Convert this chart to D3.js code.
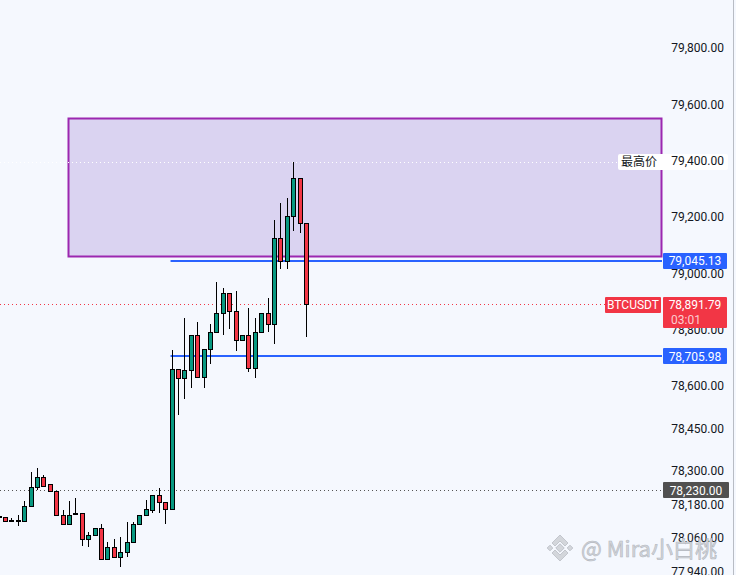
<!DOCTYPE html>
<html>
<head>
<meta charset="utf-8">
<script src="https://cdn.jsdelivr.net/npm/d3@7"></script>
<style>
  body { margin: 0; background: #f5f8fe; }
  svg { display: block; }
</style>
</head>
<body>
<div id="chart"></div>
<script>
// candle data, oldest first (BTCUSDT)
const opens  = [78136, 78134, 78123, 78120, 78120, 78173, 78240, 78276, 78251, 78226,
                78141, 78112, 78146, 78148, 78056, 78070, 78095, 77985, 78027, 77992,
                78010, 78045, 78109, 78141, 78159, 78215, 78187, 78162, 78659, 78627,
                78656, 78783, 78631, 78730, 78791, 78858, 78929, 78865, 78762, 78783,
                78663, 78791, 78858, 78822, 79124, 79043, 79202, 79337, 79178];
const highs  = [78139, 78134, 78130, 78141, 78191, 78294, 78308, 78286, 78251, 78226,
                78159, 78191, 78201, 78148, 78081, 78095, 78112, 78045, 78056, 78066,
                78116, 78116, 78141, 78194, 78215, 78237, 78187, 78727, 78659, 78840,
                78783, 78826, 78730, 78822, 78968, 78947, 78929, 78936, 78783, 78876,
                78840, 78858, 78911, 79188, 79249, 79266, 79397, 79337, 79178];
const lows   = [78135, 78120, 78116, 78102, 78120, 78173, 78230, 78247, 78226, 78141,
                78112, 78112, 78146, 78034, 78027, 78070, 77981, 77985, 77992, 77956,
                77992, 78045, 78109, 78141, 78148, 78148, 78112, 78162, 78496, 78553,
                78592, 78627, 78592, 78680, 78791, 78780, 78801, 78723, 78762, 78649,
                78627, 78791, 78791, 78751, 79014, 79014, 79149, 79142, 78773];
const closes = [78138, 78120, 78124, 78123, 78173, 78240, 78276, 78247, 78226, 78141,
                78112, 78144, 78148, 78056, 78070, 78095, 77985, 78027, 77992, 78010,
                78045, 78109, 78141, 78162, 78215, 78187, 78162, 78659, 78627, 78656,
                78783, 78631, 78730, 78791, 78858, 78929, 78865, 78762, 78783, 78663,
                78791, 78858, 78822, 79124, 79043, 79202, 79337, 79178, 78891.79];

const tickValues = [79800, 79600, 79400, 79200, 79000, 78800, 78600, 78450, 78300, 78180, 78060, 77940];

// drawings
const zoneTop = 79550, zoneBottom = 79060, zoneStart = 11;
const levelPrices = [79045.13, 78705.98];
const levelStart = 26.85;
const refPrice = 78230;
const countdown = "03:01";
const symbol = "BTCUSDT";
const highLabel = "最高价";

const width = 736, height = 575;
const plotRight = 662;

const svg = d3.select("#chart")
    .append("svg")
    .attr("width", width)
    .attr("height", height)
    .style("font-family", "Roboto, 'Noto Sans CJK SC', sans-serif");

svg.append("rect")
    .attr("width", width)
    .attr("height", height)
    .attr("fill", "#f5f8fe");

let x = d3.scaleLinear()
    .domain([0, opens.length - 1])
    .range([-1.4, 306]);

let y = d3.scaleLinear()
    .domain([77940, 79800])
    .range([572, 48]);

const fmt = d3.format(",.2f");

// purple zone
svg.append("rect")
    .attr("x", Math.round(x(zoneStart)) - 0.5)
    .attr("y", Math.round(y(zoneTop)) + 0.5)
    .attr("width", plotRight - Math.round(x(zoneStart)))
    .attr("height", Math.round(y(zoneBottom)) - Math.round(y(zoneTop)))
    .attr("fill", "#dad3f1")
    .attr("stroke", "#9c27b0")
    .attr("stroke-width", 2);

// high line (dotted white)
const hi = d3.max(highs);
svg.append("line")
    .attr("x1", 0).attr("x2", 618)
    .attr("y1", Math.round(y(hi)) + 0.5).attr("y2", Math.round(y(hi)) + 0.5)
    .attr("stroke", "#ffffff")
    .attr("stroke-dasharray", "1,3");

// dotted price lines
svg.append("line")
    .attr("x1", 0).attr("x2", plotRight)
    .attr("y1", Math.round(y(closes[closes.length - 1])) + 0.5)
    .attr("y2", Math.round(y(closes[closes.length - 1])) + 0.5)
    .attr("stroke", "#f23645")
    .attr("stroke-dasharray", "1,3");

svg.append("line")
    .attr("x1", 0).attr("x2", plotRight)
    .attr("y1", Math.round(y(refPrice)) + 0.5)
    .attr("y2", Math.round(y(refPrice)) + 0.5)
    .attr("stroke", "#555555")
    .attr("stroke-dasharray", "1,3");

// blue horizontal levels
svg.selectAll("levels")
    .data(levelPrices)
    .enter()
    .append("line")
    .attr("x1", x(levelStart)).attr("x2", plotRight)
    .attr("y1", d => Math.round(y(d)))
    .attr("y2", d => Math.round(y(d)))
    .attr("stroke", "#2962ff")
    .attr("stroke-width", 2);

// candles
const data = opens.map((o, i) => ({ i: i, o: o, h: highs[i], l: lows[i], c: closes[i] }));

svg.selectAll("wicks")
    .data(data)
    .enter()
    .append("line")
    .attr("x1", d => Math.round(x(d.i)) + 0.5)
    .attr("x2", d => Math.round(x(d.i)) + 0.5)
    .attr("y1", d => Math.round(y(d.h)))
    .attr("y2", d => Math.round(y(d.l)))
    .attr("stroke", "#000")
    .attr("stroke-width", 1);

svg.selectAll("bodies")
    .data(data)
    .enter()
    .append("rect")
    .attr("x", d => Math.round(x(d.i)) - 1.5)
    .attr("y", d => Math.round(y(Math.max(d.o, d.c))) + 0.5)
    .attr("width", 4)
    .attr("height", d => Math.max(1, Math.round(y(Math.min(d.o, d.c))) - Math.round(y(Math.max(d.o, d.c)))))
    .attr("fill", d => d.c >= d.o ? "#089981" : "#f23645")
    .attr("stroke", "#000")
    .attr("stroke-width", 1);

// right price axis
svg.append("line")
    .attr("x1", 733.5).attr("x2", 733.5)
    .attr("y1", 0).attr("y2", height)
    .attr("stroke", "#b8bcc4");

// white box behind the high tick
svg.append("rect")
    .attr("x", 618).attr("y", Math.round(y(hi)) - 8)
    .attr("width", 110).attr("height", 16)
    .attr("rx", 2)
    .attr("fill", "#ffffff");

svg.append("text")
    .text(highLabel)
    .attr("x", 621)
    .attr("y", y(hi))
    .attr("dy", "0.35em")
    .style("font-family", "'Noto Sans CJK SC', sans-serif")
    .style("font-size", "12px")
    .attr("fill", "#131722");

svg.selectAll("ticks")
    .data(tickValues)
    .enter()
    .append("text")
    .attr("x", 724)
    .attr("y", d => y(d))
    .attr("dy", "0.35em")
    .attr("text-anchor", "end")
    .style("font-size", "12px")
    .attr("fill", "#131722")
    .text(d => fmt(d));

// axis label boxes
function axisLabel(price, fill, w) {
    const cy = y(price);
    svg.append("rect")
        .attr("x", 663).attr("y", Math.round(cy) - 8)
        .attr("width", w).attr("height", 16)
        .attr("rx", 1)
        .attr("fill", fill);
    svg.append("text")
        .attr("x", 695 + (w - 64) / 2)
        .attr("y", cy)
        .attr("dy", "0.36em")
        .attr("text-anchor", "middle")
        .style("font-size", "12px")
        .attr("fill", "#ffffff")
        .text(fmt(price));
}

levelPrices.forEach(p => axisLabel(p, "#2962ff", 64));
axisLabel(refPrice, "#505050", 66);

// last price label with countdown
const last = closes[closes.length - 1];
const ly = Math.round(y(last));
svg.append("rect")
    .attr("x", 663).attr("y", ly - 7)
    .attr("width", 64).attr("height", 31)
    .attr("rx", 1)
    .attr("fill", "#f23645");
svg.append("text")
    .attr("x", 695).attr("y", ly + 1)
    .attr("dy", "0.35em")
    .attr("text-anchor", "middle")
    .style("font-size", "12px")
    .attr("fill", "#ffffff")
    .text(fmt(last));
svg.append("text")
    .attr("x", 671).attr("y", ly + 16)
    .attr("dy", "0.35em")
    .style("font-size", "12px")
    .attr("fill", "#ffffff")
    .attr("fill-opacity", 0.75)
    .text(countdown);

svg.append("rect")
    .attr("x", 605).attr("y", ly - 7)
    .attr("width", 56).attr("height", 16)
    .attr("rx", 1)
    .attr("fill", "#f23645");
svg.append("text")
    .attr("x", 633).attr("y", ly + 1)
    .attr("dy", "0.35em")
    .attr("text-anchor", "middle")
    .style("font-size", "12px")
    .attr("fill", "#ffffff")
    .text(symbol);

// watermark
let wm = svg.append("g")
    .attr("transform", "translate(560,548)")
    .attr("fill", "#d3d6db")
    .attr("stroke", "#b4b8bf")
    .attr("stroke-width", 0.7);
wm.append("rect").attr("x", -3).attr("y", -3).attr("width", 6).attr("height", 6).attr("transform", "rotate(45)");
wm.append("rect").attr("x", -12).attr("y", -2).attr("width", 4).attr("height", 4).attr("transform", "rotate(45,-10,0)");
wm.append("rect").attr("x", 8).attr("y", -2).attr("width", 4).attr("height", 4).attr("transform", "rotate(45,10,0)");
wm.append("path").attr("d", "M-8,-5 L0,-13 L8,-5 L5,-2 L0,-7 L-5,-2 Z");
wm.append("path").attr("d", "M-8,5 L0,13 L8,5 L5,2 L0,7 L-5,2 Z");

svg.append("text")
    .attr("x", 581).attr("y", 557)
    .style("font-family", "'Noto Sans CJK SC', 'Noto Sans', sans-serif")
    .style("font-size", "22px")
    .attr("fill", "#d3d6db")
    .attr("stroke", "#b4b8bf")
    .attr("stroke-width", 0.6)
    .text("@ Mira小白桃");
</script>
</body>
</html>
